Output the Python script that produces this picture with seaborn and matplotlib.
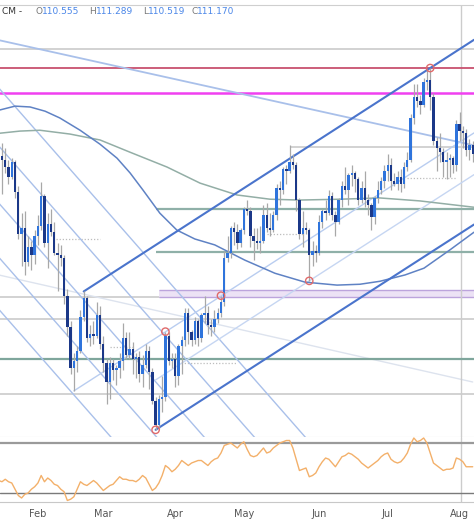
import numpy as np
import pandas as pd
import matplotlib
matplotlib.use("Agg")
import matplotlib.pyplot as plt
import seaborn as sns

sns.set_style("white")
plt.rcParams["font.family"] = ["DejaVu Sans"]

# daily candles, USD/JPY 16 Jan - 7 Aug 2018
dates = pd.bdate_range("2018-01-16", "2018-08-07")

opens = [110.25, 111.10, 111.00, 110.85, 110.60, 110.95, 110.25, 109.25, 109.40, 108.60, 108.95, 108.75,
         109.20, 109.45, 110.15, 109.05, 109.50, 109.30, 108.80, 108.75, 108.70, 107.80, 107.05, 106.10,
         106.25, 106.50, 107.30, 107.75, 106.80, 106.90, 106.85, 107.35,
         106.65, 106.20, 105.75, 106.20, 106.05, 106.10, 106.25, 106.80, 106.40, 106.55, 106.30, 106.35,
         105.95, 106.15, 106.50, 106.00, 105.30, 104.75, 105.35, 105.40, 106.85, 106.25,
         106.30, 105.90, 106.60, 106.75, 107.40, 106.95, 106.75, 107.20, 106.80, 107.35, 107.40, 107.10,
         107.05, 107.25, 107.40, 107.65, 108.70, 108.80, 109.40, 109.30, 109.05,
         109.35, 109.85, 109.80, 109.20, 109.10, 109.05, 109.10, 109.70, 109.40, 109.35, 109.70, 110.35,
         110.30, 110.80, 110.75, 110.95, 110.90, 110.05, 109.25, 109.40, 109.35, 108.75, 108.85,
         108.80, 109.55, 109.80, 109.75, 110.15, 109.70, 109.55, 110.05, 110.40, 110.30, 110.65, 110.70,
         110.55, 110.05, 110.35, 110.05, 109.95, 109.65, 110.10, 110.30, 110.50,
         110.75, 110.90, 110.50, 110.45, 110.60, 110.45, 110.85, 111.00, 112.00, 112.50, 112.40, 112.30,
         112.85, 112.90, 112.50, 111.45, 111.30, 111.20, 110.95, 111.00, 111.05, 110.90,
         111.85, 111.70, 111.65, 111.25, 111.35]
highs = [111.25, 111.40, 111.30, 111.00, 111.05, 111.00, 110.40, 109.75, 109.80, 109.20, 109.10, 109.35,
         109.70, 110.48, 110.20, 109.75, 109.85, 109.55, 109.05, 109.00, 108.75, 107.95, 107.20, 106.45,
         106.60, 107.45, 107.90, 107.80, 107.10, 107.20, 107.65, 107.55,
         106.85, 106.30, 106.35, 106.30, 106.15, 106.45, 107.15, 106.95, 106.95, 106.70, 106.45, 106.50,
         106.40, 106.65, 106.60, 106.10, 105.40, 105.45, 105.90, 106.95, 106.95, 106.45,
         106.45, 106.65, 106.85, 107.50, 107.50, 107.00, 107.30, 107.25, 107.40, 107.80, 107.55, 107.25,
         107.45, 107.50, 107.80, 108.85, 109.20, 109.45, 109.55, 109.50, 109.40,
         109.90, 110.05, 109.90, 109.40, 109.40, 109.45, 109.95, 110.00, 109.75, 109.80, 110.45, 110.50,
         110.85, 110.90, 111.35, 111.15, 110.95, 110.10, 109.80, 109.55, 109.40, 109.10, 109.00,
         109.70, 109.85, 110.05, 110.30, 110.25, 109.80, 110.10, 110.50, 110.85, 110.70, 110.90,
         110.75, 110.60, 110.50, 110.75, 110.20, 110.00, 110.15, 110.50, 110.60, 110.90,
         111.15, 111.05, 110.70, 110.75, 110.80, 110.95, 111.20, 112.10, 112.80, 112.80, 112.55,
         112.95, 113.15, 113.18, 112.60, 111.55, 111.65, 111.30, 111.20, 111.15, 111.10, 111.95,
         112.15, 111.80, 111.75, 111.50, 111.45]
lows = [110.15, 110.20, 110.70, 110.45, 110.55, 110.10, 109.15, 108.50, 108.30, 108.50, 108.40, 108.55,
        109.00, 109.35, 108.95, 108.45, 109.20, 108.75, 107.90, 108.50, 107.60, 106.85, 105.95, 105.55,
        106.00, 106.45, 107.20, 106.70, 106.60, 106.65, 106.80, 106.55,
        106.00, 105.25, 105.35, 105.80, 105.70, 105.85, 106.05, 106.30, 106.30, 105.95, 105.85, 105.75,
        105.65, 106.10, 105.60, 105.25, 104.63, 104.65, 105.05, 105.30, 106.15, 106.10,
        105.65, 105.70, 105.95, 106.60, 106.65, 106.60, 106.65, 106.60, 106.70, 107.15, 106.90, 106.85,
        106.95, 107.15, 107.30, 107.55, 108.60, 108.70, 109.00, 108.90, 108.95,
        109.25, 109.70, 108.95, 108.65, 108.90, 108.80, 109.05, 109.30, 109.20, 109.30, 109.60, 109.95,
        110.20, 110.45, 110.70, 110.80, 109.80, 109.15, 108.95, 109.25, 108.15, 108.50, 108.60,
        108.75, 109.40, 109.60, 109.70, 109.60, 109.20, 109.50, 109.90, 110.20, 109.95, 110.40,
        110.25, 109.95, 110.00, 109.90, 109.70, 109.35, 109.50, 110.00, 110.20, 110.35,
        110.50, 110.30, 110.40, 110.30, 110.25, 110.35, 110.75, 110.95, 111.85, 112.25, 112.10,
        112.25, 112.65, 112.20, 111.35, 110.75, 110.95, 110.60, 110.55, 110.60, 110.70, 110.75,
        111.45, 111.30, 111.10, 111.00, 110.95]
closes = [111.10, 111.00, 110.85, 110.60, 110.95, 110.25, 109.25, 109.40, 108.60, 108.95, 108.75, 109.20,
          109.45, 110.15, 109.05, 109.50, 109.30, 108.80, 108.75, 108.70, 107.80, 107.05, 106.10, 106.25,
          106.50, 107.30, 107.75, 106.80, 106.90, 106.85, 107.35, 106.65,
          106.20, 105.75, 106.20, 106.05, 106.10, 106.25, 106.80, 106.40, 106.55, 106.30, 106.35, 105.95,
          106.15, 106.50, 106.00, 105.30, 104.75, 105.35, 105.40, 106.85, 106.25, 106.30,
          105.90, 106.60, 106.75, 107.40, 106.95, 106.75, 107.20, 106.80, 107.35, 107.40, 107.10, 107.05,
          107.25, 107.40, 107.65, 108.70, 108.80, 109.40, 109.30, 109.05, 109.35,
          109.85, 109.80, 109.20, 109.10, 109.05, 109.10, 109.70, 109.40, 109.35, 109.70, 110.35, 110.30,
          110.80, 110.75, 110.95, 110.90, 110.05, 109.25, 109.40, 109.35, 108.75, 108.85, 108.80,
          109.55, 109.80, 109.75, 110.15, 109.70, 109.55, 110.05, 110.40, 110.30, 110.65, 110.70,
          110.55, 110.05, 110.35, 110.05, 109.95, 109.65, 110.10, 110.30, 110.50, 110.75,
          110.90, 110.50, 110.45, 110.60, 110.45, 110.85, 111.00, 112.00, 112.50, 112.40, 112.30,
          112.85, 112.90, 112.50, 111.45, 111.30, 111.20, 110.95, 111.00, 111.05, 110.90, 111.85,
          111.70, 111.65, 111.25, 111.35, 111.15]

rsi = [40, 39, 41, 39, 38, 33, 28, 26, 29, 30, 33, 35, 38, 44, 39, 42, 40, 37, 36, 33, 31, 24, 25, 27,
       33, 39, 37, 36, 38, 40, 38, 35, 32, 34, 36, 37, 40, 43, 41, 41, 40, 40, 39, 41, 44, 42, 37, 32,
       34, 38, 44, 52, 50, 47, 49, 52, 56, 54, 52, 54, 55, 56, 56, 54, 52, 55, 57, 58, 62, 68, 69, 70,
       68, 66, 69, 71, 65, 60, 59, 60, 63, 66, 62, 63, 66, 68, 70, 71, 72, 72, 66, 57, 48, 49, 50, 43,
       44, 46, 51, 55, 58, 57, 54, 51, 55, 59, 60, 62, 61, 59, 57, 54, 52, 50, 52, 54, 56, 59, 61, 62,
       57, 55, 54, 55, 58, 62, 69, 74, 71, 72, 74, 70, 62, 54, 52, 50, 48, 49, 49, 50, 58, 57, 55, 51,
       51, 51]

# support / resistance levels
full_levels = [113.62, 107.77, 107.25, 105.47]
teal_full = [106.30]
teal_from_march = [109.85, 108.83]
red_level = 113.18
magenta_level = 112.59
may_high_level = 111.31
zone_low, zone_high = 107.77, 107.93

# channel pivots (index into the candles)
channel_top = [26, 132]
channel_low = 48
inner_lows = [23, 95]
pivots_high = [51, 68, 132]
pivots_low = [48, 95]

# moving averages (index, price)
ma_fast_x = [0.4, 5.0, 9.6, 14.2, 18.7, 24.9, 31.0, 36.2, 40.2, 44.1, 49.3, 54.5, 60.0, 66.1, 75.3,
             84.5, 93.7, 103.5, 110.5, 116.6, 124.3, 130.1, 138.0, 145.4]
ma_fast_y = [112.19, 112.28, 112.26, 112.16, 112.00, 111.71, 111.38, 111.05, 110.70, 110.30, 109.75,
             109.35, 109.14, 109.00, 108.64, 108.33, 108.12, 108.05, 108.07, 108.14, 108.29, 108.45,
             108.88, 109.30]
ma_slow_x = [0.4, 6.5, 12.6, 21.8, 31.0, 40.2, 51.5, 61.6, 72.9, 83.0, 92.1, 104.4, 116.6, 128.8, 145.4]
ma_slow_y = [111.64, 111.69, 111.71, 111.62, 111.48, 111.19, 110.84, 110.46, 110.18, 110.08, 110.06,
             110.08, 110.11, 110.04, 109.89]

# falling trendlines (start price at index 0, end price at index 145)
long_tl = [113.84, 111.36]
faint_tl = [108.29, 105.76]
fan_start = [112.71, 111.34, 109.99, 108.71, 107.48]
fan_slope = -0.088

df = pd.DataFrame({"date": dates, "o": opens, "h": highs, "l": lows, "c": closes, "rsi": rsi})
df["i"] = np.arange(len(df))

W, H = 474, 520
fig = plt.figure(figsize=(W / 100, H / 100), dpi=100)
ax = fig.add_axes([0, 83 / H, 1, 432 / H])
ax2 = fig.add_axes([0, 18 / H, 1, 65 / H], sharex=ax)

x0, x1 = 0.4, 145.4
ax.set_xlim(x0, x1)
ax.set_ylim(104.46, 114.67)

# horizontal lines
for lv in full_levels:
    ax.axhline(lv, color="#cfcfcf", lw=1.3, zorder=1)
ax.hlines(may_high_level, 89, x1, color="#cfcfcf", lw=1.3, zorder=1)
ax.fill_between([49, x1], zone_low, zone_high, color="#ece2f5", lw=0, zorder=1)
ax.hlines([zone_low, zone_high], 49, x1, color="#bca4dc", lw=1.0, zorder=1)
for lv in teal_full:
    ax.axhline(lv, color="#7fa69c", lw=1.6, zorder=2)
ax.hlines(teal_from_march, 48, x1, color="#8fb0a8", lw=1.6, zorder=2)
ax.axhline(red_level, color="#c8506e", lw=1.3, zorder=2)
ax.axhline(magenta_level, color="#f040f0", lw=1.8, zorder=2)

# dotted markers
dots = dict(color="#bdbdbd", lw=0.9, ls=(0, (1, 1.5)), zorder=1)
ax.hlines(109.14, 17.5, 31, **dots)
ax.hlines(106.58, 34, 41, **dots)
ax.hlines(106.20, 55, 73, **dots)
ax.hlines(109.26, 82, 93, **dots)
ax.hlines(110.58, 125, 140, **dots)

# falling lines
xs = np.array([0, 145])
ax.plot(xs, long_tl, color="#a9c0ea", lw=1.3, zorder=2)
ax.plot(xs, faint_tl, color="#dde3ee", lw=1.0, zorder=1)
for p in fan_start:
    ax.plot(xs, [p, p + fan_slope * 145], color="#a9c0ea", lw=1.0, zorder=2)

# rising channel
i1, i2 = channel_top
slope = (df.h[i2] - df.h[i1]) / (i2 - i1)
ax.plot([i1, x1], [df.h[i1], df.h[i1] + slope * (x1 - i1)], color="#4a74cc", lw=1.5, zorder=3)
ax.plot([channel_low, x1], [df.l[channel_low], df.l[channel_low] + slope * (x1 - channel_low)],
        color="#4a74cc", lw=1.5, zorder=3)
a, b = inner_lows
ax.plot([a, x1], [df.l[a], df.l[a] + slope * (x1 - a)], color="#b9cdf0", lw=1.0, zorder=2)
ax.plot([48, x1], [df.l[b] + slope * (48 - b), df.l[b] + slope * (x1 - b)], color="#c6d6f2", lw=1.0, zorder=2)

# moving averages
sns.lineplot(x=ma_slow_x, y=ma_slow_y, ax=ax, color="#93aea6", lw=1.1, zorder=2)
sns.lineplot(x=ma_fast_x, y=ma_fast_y, ax=ax, color="#5f82c4", lw=1.1, zorder=2)

# candles
up = df.c >= df.o
body = (df.c - df.o).abs().clip(lower=0.04)
bottom = df[["o", "c"]].min(axis=1)
ax.vlines(df.i, df.l, df.h, color="#a8a8a8", lw=0.9, zorder=4)
ax.bar(df.i[up], body[up], bottom=bottom[up], width=0.72, color="#2f74dc", lw=0, zorder=5)
ax.bar(df.i[~up], body[~up], bottom=bottom[~up], width=0.72, color="#1b3888", lw=0, zorder=5)

# pivot circles
ax.scatter(pivots_high, df.h[pivots_high], s=28, facecolor="none", edgecolor="#e06a6a", lw=1.0, zorder=6)
ax.scatter(pivots_low, df.l[pivots_low], s=28, facecolor="none", edgecolor="#e06a6a", lw=1.0, zorder=6)

# crosshair
cross = 141.4
ax.axvline(cross, color="#cccccc", lw=1.0, zorder=1)
ax2.axvline(cross, color="#cccccc", lw=1.0, zorder=1)

for s in ["left", "right"]:
    ax.spines[s].set_visible(False)
    ax2.spines[s].set_visible(False)
for s in ["top", "bottom"]:
    ax.spines[s].set_color("#cfcfcf")
ax2.spines["top"].set_visible(False)
ax2.spines["bottom"].set_color("#c8c8c8")
ax.set_xticks([])
ax.set_yticks([])
ax.set_xlabel("")
ax.set_ylabel("")

# RSI panel
ax2.set_ylim(22.8, 74.8)
ax2.axhline(70, color="#9a9a9a", lw=1.6)
ax2.axhline(30, color="#7a7a7a", lw=1.0)
sns.lineplot(data=df, x="i", y="rsi", ax=ax2, color="#f3b06a", lw=1.0)
ax2.set_yticks([])
ax2.set_xlabel("")
ax2.set_ylabel("")
month_start = df.groupby(df.date.dt.to_period("M"))["i"].first().iloc[1:]
ax2.set_xticks(month_start.values)
ax2.set_xticklabels([d.strftime("%b") for d in df.date[month_start.values]])
ax2.tick_params(axis="x", length=3, width=0.8, color="#bbbbbb", pad=2, labelsize=7, labelcolor="#555555")
ax2.set_xlim(x0, x1)

# header
hy = 1 - 11 / H
fs = 6.5
fig.text(2 / W, hy, "CM -", fontsize=fs, color="#333333", va="center")
parts = [("O", 35, 42), ("H", 89, 96), ("L", 143, 148), ("C", 191, 197)]
vals = ["110.555", "111.289", "110.519", "111.170"]
for (lab, px, vx), v in zip(parts, vals):
    fig.text(px / W, hy, lab, fontsize=fs, color="#777777", va="center")
    fig.text(vx / W, hy, v, fontsize=fs, color="#4a86e8", va="center")

fig.savefig("out.png", dpi=100)
